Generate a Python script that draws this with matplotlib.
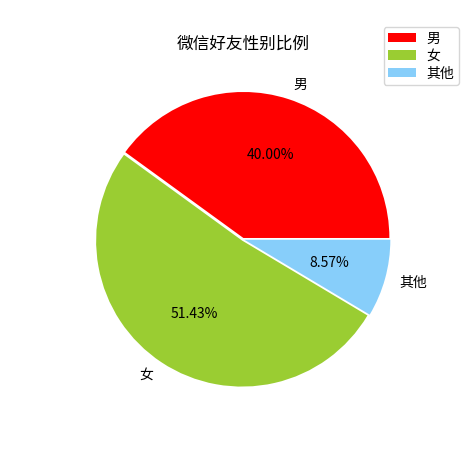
import matplotlib
matplotlib.use('Agg')
import matplotlib.pyplot as plt

plt.rcParams['font.family'] = ['Noto Sans CJK SC', 'DejaVu Sans']
plt.rcParams['axes.unicode_minus'] = False

# 微信好友性别统计
labels = ['男', '女', '其他']
counts = [14, 18, 3]
colors = ['red', 'yellowgreen', 'lightskyblue']
explode = [0.01, 0.01, 0.01]

fig = plt.figure(figsize=(4.74, 4.74), dpi=100)
ax = fig.add_subplot(111)
ax.pie(counts, labels=labels, colors=colors, explode=explode,
       autopct='%1.2f%%', startangle=0)
ax.set_title('微信好友性别比例')
ax.legend(loc='upper right', bbox_to_anchor=(1.11, 1.1),
          labelspacing=0.25, borderpad=0.3)

plt.savefig('out.png')
